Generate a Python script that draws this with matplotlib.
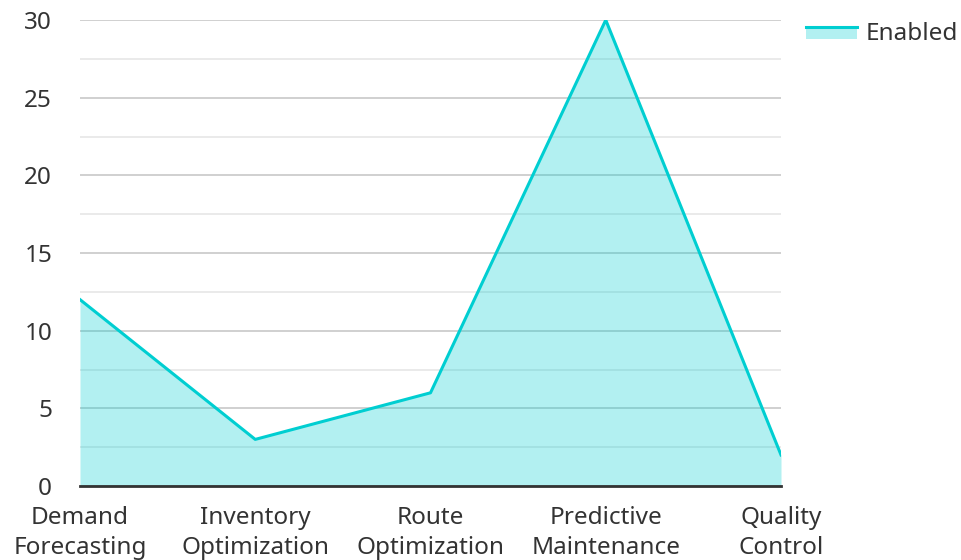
import matplotlib

matplotlib.use("Agg")
import matplotlib.pyplot as plt
from matplotlib.legend_handler import HandlerBase
from matplotlib.lines import Line2D
from matplotlib.patches import Rectangle

categories = [
    "Demand\nForecasting",
    "Inventory\nOptimization",
    "Route\nOptimization",
    "Predictive\nMaintenance",
    "Quality\nControl",
]
enabled = [12, 3, 6, 30, 2]
y_ticks = [0, 5, 10, 15, 20, 25, 30]

LINE_COLOR = "#00CED1"
FILL_ALPHA = 0.3
TEXT_COLOR = "#333333"
FONT_SIZE = 17.5

plt.rcParams["font.family"] = ["Noto Sans", "DejaVu Sans"]


class AreaHandler(HandlerBase):
    # legend swatch: a filled band with the series line along its top edge
    def create_artists(self, legend, orig_handle, xdescent, ydescent,
                       width, height, fontsize, trans):
        x0, y0 = -xdescent, -ydescent
        top = y0 + height * 0.8
        patch = Rectangle((x0, y0), width, top - y0, facecolor=LINE_COLOR,
                          alpha=FILL_ALPHA, edgecolor="none", transform=trans)
        line = Line2D([x0, x0 + width], [top, top], color=LINE_COLOR,
                      linewidth=2.2, transform=trans)
        return [patch, line]


fig = plt.figure(figsize=(9.62, 5.6), dpi=100)
ax = fig.add_axes([80 / 962, 1 - 486 / 560, 701 / 962, 466 / 560])

x = list(range(len(categories)))
ax.fill_between(x, enabled, 0, color=LINE_COLOR, alpha=FILL_ALPHA, linewidth=0, zorder=2)
ax.plot(x, enabled, color=LINE_COLOR, linewidth=2.2, zorder=3)

ax.set_xlim(0, len(categories) - 1)
ax.set_ylim(0, 30)
ax.set_yticks(y_ticks)
ax.set_yticks([2.5 + 5 * i for i in range(6)], minor=True)
ax.set_xticks(x)
ax.set_xticklabels(categories)

ax.grid(True, which="major", axis="y", color="#C8C8C8", linewidth=1.2, zorder=1)
ax.grid(True, which="minor", axis="y", color="#E6E6E6", linewidth=1.2, zorder=1)
ax.grid(False, axis="x")
ax.set_axisbelow(True)

for side in ("top", "right", "left"):
    ax.spines[side].set_visible(False)
ax.spines["bottom"].set_color("#333333")
ax.spines["bottom"].set_linewidth(2)
ax.spines["bottom"].set_zorder(4)

ax.tick_params(axis="both", which="both", length=0, labelsize=FONT_SIZE, labelcolor=TEXT_COLOR)
ax.tick_params(axis="y", pad=20)
ax.tick_params(axis="x", pad=14.5)
for lbl in ax.get_xticklabels():
    lbl.set_linespacing(1.35)

handle = Rectangle((0, 0), 1, 1)
fig.legend([handle], ["Enabled"], handler_map={Rectangle: AreaHandler()},
           loc="upper left", bbox_to_anchor=(806 / 962, 1 - 22 / 560),
           frameon=False, fontsize=FONT_SIZE, handlelength=2.1, handleheight=0.6,
           handletextpad=0.36, borderpad=0, borderaxespad=0,
           labelcolor=TEXT_COLOR)

fig.savefig("out.png", dpi=100)
